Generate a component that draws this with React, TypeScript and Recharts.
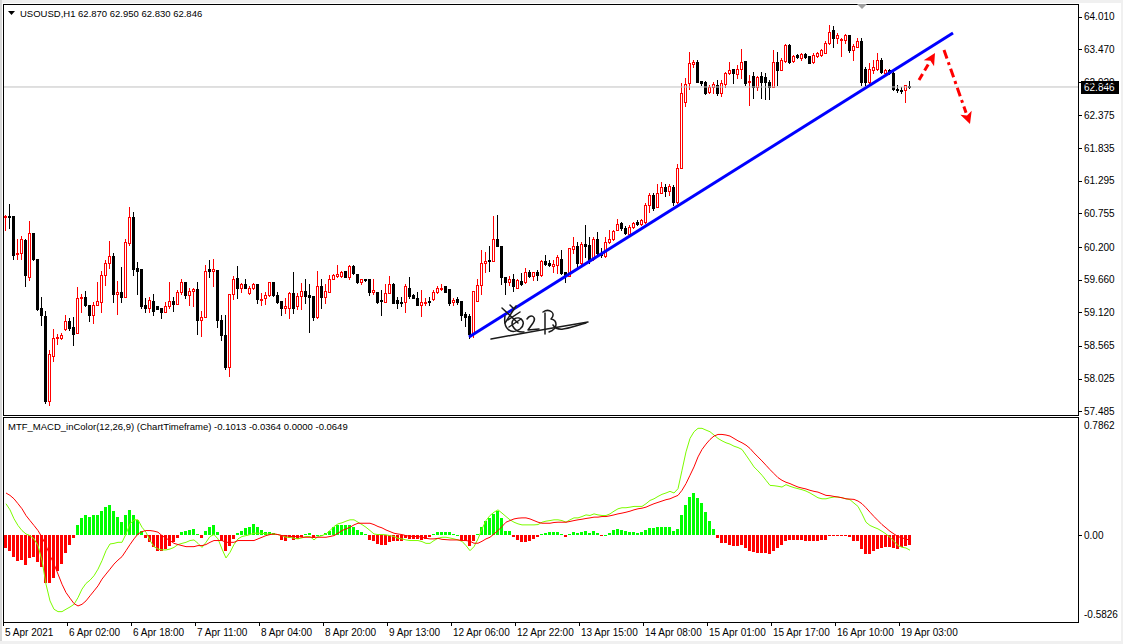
import React from 'react';
import { ComposedChart, Bar, Line, XAxis, YAxis, ReferenceLine } from 'recharts';

const FONT = '"Liberation Sans", Arial, sans-serif';

// USOUSD H1 candles
const openP = [
  60.69, 60.71, 60.71, 60.08, 60.11, 60.32, 59.71, 60.43, 60.01, 59.19,
  59.06, 57.66, 58.40, 58.70, 58.70, 58.84, 58.98, 58.88, 58.78, 59.35,
  59.37, 59.24, 59.07, 59.24, 59.30, 59.74, 59.93, 60.05, 59.42, 59.45,
  59.38, 60.27, 60.69, 59.85, 59.84, 59.24, 59.19, 59.31, 59.22, 59.20,
  59.13, 59.22, 59.31, 59.26, 59.45, 59.63, 59.40, 59.47, 59.50, 59.00,
  59.05, 59.83, 59.80, 59.82, 58.99, 58.75, 58.21, 59.42, 59.69, 59.53,
  59.59, 59.44, 59.52, 59.59, 59.33, 59.35, 59.40, 59.62, 59.41, 59.31,
  59.19, 59.20, 59.44, 59.23, 59.39, 59.48, 59.41, 59.39, 59.05, 59.55,
  59.38, 59.46, 59.68, 59.72, 59.72, 59.81, 59.71, 59.88, 59.76, 59.63,
  59.68, 59.67, 59.45, 59.46, 59.33, 59.30, 59.44, 59.59, 59.32, 59.30,
  59.30, 59.52, 59.41, 59.35, 59.24, 59.29, 59.31, 59.34, 59.46, 59.52,
  59.55, 59.50, 59.30, 59.34, 59.31, 59.09, 59.06, 58.76, 59.31, 59.57,
  59.94, 59.99, 59.97, 60.33, 60.22, 59.70, 59.63, 59.68, 59.53, 59.64,
  59.63, 59.79, 59.72, 59.79, 59.74, 59.97, 59.94, 59.89, 59.90, 60.01,
  59.78, 59.72, 60.16, 60.22, 59.94, 60.25, 60.23, 60.01, 60.34, 60.11,
  60.05, 60.29, 60.34, 60.49, 60.59, 60.51, 60.42, 60.53, 60.62, 60.58,
  60.62, 60.90, 61.06, 60.86, 61.10, 61.20, 61.12, 61.20, 60.95, 61.50,
  62.60, 62.91, 63.22, 63.26, 62.94, 62.93, 62.77, 62.85, 62.88, 62.74,
  62.90, 63.07, 63.14, 63.06, 63.14, 63.28, 62.92, 63.03, 62.84, 63.02,
  63.01, 62.93, 62.85, 63.26, 63.13, 63.28, 63.54, 63.28, 63.37, 63.32,
  63.39, 63.35, 63.26, 63.35, 63.37, 63.41, 63.57, 63.78, 63.65, 63.63,
  63.63, 63.70, 63.45, 63.51, 63.61, 63.14, 62.92, 63.13, 63.15, 63.30,
  63.08, 63.13, 63.07, 62.81, 62.80, 62.79, 62.87,
];

const highP = [
  60.73, 60.91, 60.72, 60.34, 60.38, 60.34, 60.63, 60.44, 60.01, 59.38,
  59.14, 58.50, 58.85, 58.76, 58.78, 59.07, 59.03, 59.05, 59.54, 59.42,
  59.48, 59.24, 59.30, 59.62, 59.81, 59.99, 60.30, 60.11, 59.64, 59.87,
  60.34, 60.86, 60.78, 59.96, 59.84, 59.35, 59.38, 59.43, 59.23, 59.20,
  59.29, 59.62, 59.37, 59.49, 59.68, 59.63, 59.53, 59.52, 59.62, 59.15,
  59.90, 59.99, 60.00, 59.82, 59.07, 59.07, 59.43, 59.72, 59.89, 59.61,
  59.68, 59.55, 59.61, 59.59, 59.44, 59.45, 59.63, 59.63, 59.46, 59.31,
  59.35, 59.45, 59.79, 59.44, 59.60, 59.67, 59.59, 59.39, 59.81, 59.68,
  59.59, 59.74, 59.76, 59.90, 59.81, 59.81, 59.90, 59.90, 59.76, 59.68,
  59.68, 59.67, 59.67, 59.46, 59.49, 59.59, 59.72, 59.61, 59.38, 59.38,
  59.59, 59.71, 59.42, 59.46, 59.49, 59.35, 59.37, 59.49, 59.55, 59.59,
  59.55, 59.50, 59.35, 59.38, 59.31, 59.13, 59.10, 59.48, 59.68, 60.15,
  60.12, 60.21, 60.71, 60.73, 60.22, 59.71, 59.72, 59.75, 59.68, 59.77,
  59.85, 59.82, 59.79, 59.82, 59.99, 60.07, 59.99, 59.99, 60.07, 60.15,
  59.79, 60.19, 60.37, 60.29, 60.29, 60.57, 60.37, 60.37, 60.45, 60.18,
  60.37, 60.48, 60.49, 60.66, 60.62, 60.54, 60.56, 60.62, 60.65, 60.66,
  60.92, 61.09, 61.09, 61.25, 61.28, 61.25, 61.25, 61.23, 61.58, 62.91,
  63.00, 63.43, 63.30, 63.30, 62.94, 62.94, 62.88, 62.93, 62.96, 62.96,
  63.10, 63.26, 63.15, 63.21, 63.47, 63.28, 63.04, 63.10, 63.03, 63.10,
  63.07, 62.96, 63.45, 63.43, 63.32, 63.56, 63.56, 63.37, 63.39, 63.40,
  63.40, 63.36, 63.41, 63.43, 63.48, 63.60, 63.87, 63.85, 63.73, 63.65,
  63.72, 63.70, 63.56, 63.66, 63.66, 63.18, 63.25, 63.30, 63.41, 63.32,
  63.14, 63.14, 63.10, 62.88, 62.85, 62.88, 62.95,
];

const lowP = [
  60.49, 60.51, 60.01, 60.01, 60.01, 59.56, 59.65, 59.99, 59.16, 58.91,
  57.63, 57.59, 58.32, 58.60, 58.68, 58.83, 58.83, 58.58, 58.78, 59.13,
  59.23, 58.97, 58.94, 59.24, 59.13, 59.57, 59.85, 59.30, 59.10, 59.30,
  59.38, 60.23, 59.74, 59.42, 59.19, 59.13, 59.12, 59.07, 59.17, 59.03,
  59.13, 59.19, 59.14, 59.26, 59.43, 59.35, 59.24, 59.23, 58.77, 58.73,
  59.05, 59.71, 59.56, 58.88, 58.66, 58.19, 58.07, 59.34, 59.35, 59.46,
  59.52, 59.42, 59.50, 59.27, 59.24, 59.26, 59.39, 59.39, 59.27, 59.08,
  59.11, 59.02, 59.11, 59.17, 59.17, 59.28, 58.79, 58.99, 59.02, 59.19,
  59.28, 59.45, 59.67, 59.71, 59.71, 59.71, 59.68, 59.76, 59.61, 59.59,
  59.64, 59.41, 59.42, 59.28, 59.08, 59.30, 59.44, 59.28, 59.20, 59.22,
  59.13, 59.35, 59.35, 59.24, 59.06, 59.24, 59.24, 59.33, 59.44, 59.49,
  59.45, 59.24, 59.24, 59.26, 58.99, 58.90, 58.69, 58.72, 59.31, 59.42,
  59.78, 59.81, 59.97, 60.22, 59.59, 59.42, 59.57, 59.48, 59.52, 59.57,
  59.61, 59.71, 59.66, 59.66, 59.72, 59.90, 59.89, 59.79, 59.77, 59.76,
  59.63, 59.72, 60.10, 59.85, 59.92, 60.03, 59.94, 59.99, 60.07, 60.03,
  60.04, 60.27, 60.32, 60.48, 60.49, 60.42, 60.40, 60.51, 60.56, 60.56,
  60.60, 60.78, 60.82, 60.86, 61.09, 61.04, 61.06, 60.90, 60.92, 61.50,
  62.53, 62.82, 63.18, 62.92, 62.88, 62.73, 62.74, 62.74, 62.71, 62.70,
  62.85, 63.06, 62.91, 62.99, 62.99, 62.88, 62.55, 62.66, 62.79, 62.66,
  62.64, 62.64, 62.85, 62.88, 63.12, 63.26, 63.25, 63.26, 63.32, 63.30,
  63.32, 63.24, 63.25, 63.34, 63.36, 63.40, 63.56, 63.50, 63.58, 63.35,
  63.58, 63.43, 63.30, 63.50, 62.88, 62.88, 62.91, 63.07, 63.13, 63.07,
  63.06, 63.06, 62.79, 62.77, 62.75, 62.60, 62.83,
];

const closeP = [
  60.72, 60.70, 60.07, 60.11, 60.33, 59.73, 60.44, 60.01, 59.18, 59.07,
  57.66, 58.43, 58.69, 58.72, 58.75, 58.98, 58.87, 58.77, 59.35, 59.37,
  59.24, 59.07, 59.25, 59.31, 59.74, 59.94, 60.05, 59.43, 59.45, 59.38,
  60.28, 60.69, 59.83, 59.80, 59.23, 59.20, 59.32, 59.15, 59.18, 59.13,
  59.22, 59.31, 59.26, 59.45, 59.63, 59.40, 59.48, 59.50, 59.00, 59.05,
  59.81, 59.80, 59.84, 59.00, 58.75, 58.22, 59.43, 59.68, 59.53, 59.59,
  59.52, 59.52, 59.59, 59.34, 59.34, 59.41, 59.62, 59.40, 59.30, 59.19,
  59.23, 59.44, 59.20, 59.39, 59.48, 59.39, 59.38, 59.05, 59.55, 59.38,
  59.48, 59.68, 59.74, 59.75, 59.79, 59.71, 59.88, 59.77, 59.63, 59.68,
  59.65, 59.46, 59.49, 59.30, 59.32, 59.44, 59.59, 59.28, 59.28, 59.29,
  59.55, 59.39, 59.36, 59.24, 59.30, 59.30, 59.30, 59.46, 59.52, 59.53,
  59.46, 59.28, 59.33, 59.30, 59.08, 59.05, 58.76, 59.48, 59.57, 59.93,
  59.97, 59.97, 60.33, 60.22, 59.70, 59.63, 59.68, 59.55, 59.66, 59.59,
  59.78, 59.72, 59.78, 59.74, 59.97, 59.92, 59.90, 59.92, 60.03, 59.77,
  59.72, 60.18, 60.22, 59.94, 60.25, 60.21, 59.97, 60.34, 60.10, 60.07,
  60.29, 60.34, 60.47, 60.58, 60.51, 60.43, 60.53, 60.60, 60.58, 60.64,
  60.90, 61.06, 60.84, 61.10, 61.20, 61.12, 61.21, 60.95, 61.50, 62.74,
  62.90, 63.24, 63.26, 62.93, 62.91, 62.74, 62.85, 62.89, 62.74, 62.91,
  63.08, 63.13, 63.08, 63.15, 63.26, 62.91, 62.95, 62.84, 63.01, 62.93,
  62.92, 62.85, 63.26, 63.13, 63.29, 63.54, 63.26, 63.35, 63.34, 63.39,
  63.34, 63.25, 63.37, 63.40, 63.46, 63.58, 63.76, 63.65, 63.70, 63.64,
  63.70, 63.46, 63.52, 63.60, 62.93, 62.92, 63.14, 63.18, 63.30, 63.10,
  63.13, 63.07, 62.81, 62.79, 62.79, 62.88, 62.846,
];

// MTF_MACD_inColor(12,26,9): histogram, main line, signal line
const macdHist = [
  -0.086, -0.104, -0.149, -0.176, -0.167, -0.198, -0.153, -0.149, -0.183, -0.216,
  -0.324, -0.324, -0.288, -0.243, -0.194, -0.122, -0.063, -0.021, 0.065, 0.114,
  0.132, 0.125, 0.132, 0.132, 0.161, 0.188, 0.202, 0.159, 0.125, 0.087,
  0.137, 0.170, 0.137, 0.103, 0.031, -0.021, -0.048, -0.082, -0.104, -0.108,
  -0.093, -0.070, -0.048, -0.021, 0.020, 0.027, 0.035, 0.042, 0.008, -0.021,
  0.027, 0.053, 0.065, 0.020, -0.041, -0.108, -0.070, -0.025, 0.013, 0.031,
  0.049, 0.058, 0.076, 0.058, 0.035, 0.020, 0.024, 0.015, 0.008, -0.032,
  -0.036, -0.021, -0.032, -0.025, -0.014, 0.008, 0.013, -0.021, 0.004, 0.004,
  0.013, 0.031, 0.053, 0.065, 0.071, 0.071, 0.065, 0.058, 0.035, 0.020,
  0.008, -0.030, -0.036, -0.059, -0.063, -0.063, -0.048, -0.041, -0.041, -0.041,
  -0.021, -0.025, -0.025, -0.025, -0.032, -0.025, -0.014, 0.008, 0.020, 0.024,
  0.024, 0.020, 0.009, 0.004, -0.036, -0.036, -0.070, -0.036, 0.009, 0.053,
  0.094, 0.114, 0.139, 0.161, 0.114, 0.031, 0.026, -0.014, -0.032, -0.047,
  -0.047, -0.036, -0.025, -0.014, 0.009, 0.013, 0.020, 0.020, 0.024, 0.009,
  -0.014, 0.009, 0.024, 0.013, 0.024, 0.031, 0.013, 0.031, 0.013, -0.005,
  0.004, 0.013, 0.035, 0.040, 0.035, 0.031, 0.024, 0.024, 0.017, 0.020,
  0.035, 0.047, 0.047, 0.053, 0.058, 0.053, 0.053, 0.031, 0.040, 0.132,
  0.200, 0.256, 0.283, 0.251, 0.215, 0.154, 0.094, 0.040, -0.018, -0.054,
  -0.054, -0.063, -0.070, -0.070, -0.063, -0.086, -0.104, -0.115, -0.122, -0.122,
  -0.122, -0.126, -0.104, -0.088, -0.063, -0.036, -0.032, -0.032, -0.032, -0.032,
  -0.041, -0.041, -0.041, -0.041, -0.032, -0.032, -0.005, -0.005, -0.005, -0.005,
  -0.005, -0.014, -0.036, -0.041, -0.093, -0.126, -0.126, -0.108, -0.093, -0.086,
  -0.081, -0.081, -0.086, -0.093, -0.081, -0.070, -0.065,
];

const macdMain = [
  0.211, 0.170, 0.110, 0.065, 0.031, 0.008, -0.003, -0.025, -0.070, -0.171,
  -0.329, -0.441, -0.497, -0.513, -0.513, -0.497, -0.482, -0.464, -0.419, -0.362,
  -0.324, -0.302, -0.272, -0.228, -0.171, -0.104, -0.059, -0.055, -0.048, -0.048,
  0.008, 0.076, 0.103, 0.103, 0.053, 0.020, -0.036, -0.077, -0.093, -0.099,
  -0.099, -0.093, -0.082, -0.063, -0.055, -0.048, -0.036, -0.032, -0.055, -0.082,
  -0.048, -0.009, 0.004, -0.025, -0.093, -0.153, -0.115, -0.063, -0.025, -0.009,
  -0.003, 0.004, 0.013, 0.013, 0.013, 0.008, 0.008, 0.008, 0.004, -0.003,
  -0.014, -0.014, -0.021, -0.025, -0.018, -0.009, -0.009, -0.032, -0.009, -0.003,
  0.008, 0.031, 0.058, 0.076, 0.083, 0.094, 0.103, 0.103, 0.087, 0.071,
  0.053, 0.031, 0.008, 0.004, 0.004, 0.002, -0.003, -0.009, -0.021, -0.025,
  -0.032, -0.036, -0.036, -0.036, -0.043, -0.055, -0.055, -0.036, -0.021, -0.014,
  -0.014, -0.019, -0.025, -0.032, -0.041, -0.070, -0.104, -0.077, -0.025, 0.042,
  0.098, 0.132, 0.154, 0.170, 0.148, 0.125, 0.103, 0.087, 0.076, 0.069,
  0.069, 0.069, 0.069, 0.071, 0.087, 0.094, 0.098, 0.103, 0.103, 0.098,
  0.087, 0.103, 0.116, 0.116, 0.125, 0.136, 0.132, 0.143, 0.136, 0.132,
  0.132, 0.143, 0.161, 0.177, 0.184, 0.184, 0.188, 0.193, 0.193, 0.193,
  0.211, 0.233, 0.244, 0.260, 0.274, 0.283, 0.294, 0.283, 0.312, 0.435,
  0.559, 0.649, 0.694, 0.717, 0.717, 0.705, 0.694, 0.672, 0.649, 0.633,
  0.620, 0.611, 0.597, 0.588, 0.575, 0.537, 0.498, 0.458, 0.431, 0.402,
  0.368, 0.334, 0.332, 0.328, 0.323, 0.339, 0.328, 0.319, 0.312, 0.305,
  0.296, 0.283, 0.267, 0.251, 0.244, 0.244, 0.251, 0.256, 0.256, 0.251,
  0.244, 0.238, 0.215, 0.193, 0.143, 0.087, 0.065, 0.053, 0.042, 0.026,
  0.008, -0.014, -0.041, -0.070, -0.081, -0.086, -0.101,
];

const macdSignal = [
  0.283, 0.267, 0.244, 0.211, 0.177, 0.132, 0.098, 0.065, 0.031, -0.014,
  -0.070, -0.137, -0.194, -0.261, -0.329, -0.385, -0.423, -0.459, -0.475, -0.464,
  -0.441, -0.407, -0.374, -0.340, -0.295, -0.261, -0.228, -0.194, -0.167, -0.144,
  -0.104, -0.063, -0.025, 0.008, 0.024, 0.031, 0.031, 0.027, 0.020, -0.003,
  -0.021, -0.036, -0.055, -0.063, -0.070, -0.077, -0.077, -0.077, -0.070, -0.070,
  -0.063, -0.048, -0.036, -0.036, -0.036, -0.048, -0.048, -0.048, -0.036, -0.036,
  -0.036, -0.036, -0.036, -0.025, -0.014, -0.003, 0.004, 0.008, 0.004, -0.003,
  -0.003, -0.009, -0.009, -0.009, -0.014, -0.014, -0.014, -0.014, -0.014, -0.014,
  -0.014, -0.009, -0.003, 0.013, 0.031, 0.042, 0.053, 0.069, 0.080, 0.080,
  0.080, 0.080, 0.071, 0.058, 0.049, 0.035, 0.024, 0.013, 0.008, 0.004,
  -0.003, -0.007, -0.009, -0.009, -0.014, -0.021, -0.025, -0.025, -0.021, -0.028,
  -0.030, -0.032, -0.032, -0.032, -0.036, -0.036, -0.041, -0.054, -0.054, -0.041,
  -0.025, -0.014, 0.008, 0.031, 0.058, 0.087, 0.098, 0.109, 0.114, 0.116,
  0.116, 0.109, 0.098, 0.087, 0.080, 0.080, 0.080, 0.085, 0.087, 0.087,
  0.087, 0.092, 0.098, 0.103, 0.107, 0.112, 0.116, 0.121, 0.121, 0.125,
  0.125, 0.130, 0.136, 0.143, 0.148, 0.154, 0.161, 0.170, 0.177, 0.181,
  0.188, 0.200, 0.211, 0.220, 0.229, 0.238, 0.244, 0.256, 0.267, 0.301,
  0.346, 0.402, 0.458, 0.525, 0.575, 0.611, 0.642, 0.665, 0.676, 0.676,
  0.672, 0.665, 0.649, 0.633, 0.620, 0.604, 0.582, 0.552, 0.525, 0.498,
  0.469, 0.440, 0.413, 0.386, 0.368, 0.355, 0.346, 0.334, 0.323, 0.316,
  0.310, 0.301, 0.294, 0.289, 0.278, 0.267, 0.265, 0.260, 0.256, 0.251,
  0.244, 0.242, 0.240, 0.229, 0.211, 0.184, 0.154, 0.125, 0.098, 0.071,
  0.049, 0.026, 0.008, -0.009, -0.018, -0.025, -0.036,
];

const priceTicks = [64.01, 63.47, 62.92, 62.375, 61.835, 61.295, 60.755, 60.2, 59.66, 59.12, 58.565, 58.025, 57.485];
const macdTicks = [0.7862, 0, -0.5826];
const timeTickIdx = [0, 16, 32, 48, 64, 80, 96, 112, 128, 144, 160, 176, 192, 208, 224];
const timeLabels = [
  '5 Apr 2021', '6 Apr 02:00', '6 Apr 18:00', '7 Apr 11:00', '8 Apr 04:00',
  '8 Apr 20:00', '9 Apr 13:00', '12 Apr 06:00', '12 Apr 22:00', '13 Apr 15:00',
  '14 Apr 08:00', '15 Apr 01:00', '15 Apr 17:00', '16 Apr 10:00', '19 Apr 03:00',
];
const lastPrice = 62.846;

// drawn objects on the price window (bar index, price)
const trendLine = [{ x: 115.75, y: 58.714 }, { x: 236.75, y: 63.739 }];
const arrowUp = [{ x: 228.25, y: 62.962 }, { x: 232.25, y: 63.408 }];
const arrowDown = [{ x: 234.5, y: 63.458 }, { x: 241, y: 62.234 }];

const rows = openP.map((o, i) => ({
  i,
  open: o,
  high: highP[i],
  low: lowP[i],
  close: closeP[i],
  hist: macdHist[i],
  macd: macdMain[i],
  signal: macdSignal[i],
}));

const Candle = (props: any) => {
  const { x, y, width, height, payload } = props;
  if (x == null || !payload) return null;
  const top = Math.min(y, y + height);
  const bot = Math.max(y, y + height);
  const span = payload.high - payload.low;
  const toPx = (v: number) => (span > 0 ? top + ((payload.high - v) / span) * (bot - top) : top);
  const left = Math.floor(x + width / 2 - 1.5);
  const up = payload.close >= payload.open;
  const color = up ? '#ff0000' : '#000000';
  const yo = toPx(payload.open);
  const yc = toPx(payload.close);
  const bt = Math.round(Math.min(yo, yc));
  const bb = Math.round(Math.max(yo, yc));
  return (
    <g shapeRendering="crispEdges">
      <line x1={left + 1.5} x2={left + 1.5} y1={Math.round(top)} y2={Math.round(bot) + 1} stroke={color} />
      {up ? (
        <rect x={left + 0.5} y={bt + 0.5} width={2} height={Math.max(bb - bt, 1)} fill="#ffffff" stroke={color} />
      ) : (
        <rect x={left} y={bt} width={3} height={Math.max(bb - bt, 1) + 1} fill={color} />
      )}
    </g>
  );
};

const HistBar = (props: any) => {
  const { x, y, width, height, payload } = props;
  if (x == null || !payload) return null;
  const left = Math.floor(x + width / 2 - 1.5);
  const t = Math.round(Math.min(y, y + height));
  const b = Math.round(Math.max(y, y + height));
  return (
    <rect x={left} y={t} width={3} height={Math.max(b - t, 1)} fill={payload.hist >= 0 ? '#00ff00' : '#ff0000'} shapeRendering="crispEdges" />
  );
};

const PriceTick = (props: any) => {
  const { x, y, payload } = props;
  const yy = Math.round(y) + 0.5;
  return (
    <g>
      <line x1={x} x2={x + 4} y1={yy} y2={yy} stroke="#000" shapeRendering="crispEdges" />
      <text x={x + 6} y={y + 3.5} fontSize={10} fontFamily={FONT} fill="#000">
        {Number(payload.value).toFixed(3)}
      </text>
    </g>
  );
};

const MacdTick = (props: any) => {
  const { x, y, payload } = props;
  const v = Number(payload.value);
  const label = v === 0 ? '0.00' : v.toFixed(4);
  const dy = v === macdTicks[0] ? 10.5 : v === macdTicks[2] ? -4.5 : 3.5;
  const yy = Math.round(y) + 0.5;
  return (
    <g>
      {v === 0 && <line x1={x} x2={x + 4} y1={yy} y2={yy} stroke="#000" shapeRendering="crispEdges" />}
      <text x={x + 6} y={y + dy} fontSize={10} fontFamily={FONT} fill="#000">
        {label}
      </text>
    </g>
  );
};

const TimeTick = (props: any) => {
  const { x, y, payload } = props;
  const k = timeTickIdx.indexOf(Number(payload.value));
  const tx = Math.round(x) - 3;
  return (
    <g>
      <line x1={tx + 0.5} x2={tx + 0.5} y1={y} y2={y + 4} stroke="#000" shapeRendering="crispEdges" />
      <text x={tx + 2} y={y + 14} fontSize={10} fontFamily={FONT} fill="#000">
        {timeLabels[k]}
      </text>
    </g>
  );
};

const PriceBox = (props: any) => {
  const vb = props.viewBox || {};
  const x = vb.x + vb.width;
  const y = Math.round(vb.y);
  return (
    <g>
      <rect x={x + 3} y={y - 6} width={38} height={13} fill="#000" />
      <text x={x + 6} y={y + 4} fontSize={10} fontFamily={FONT} fill="#fff">
        {lastPrice.toFixed(3)}
      </text>
    </g>
  );
};

const makeArrow = (dash: string) => (p: any) => {
  const { x1, y1, x2, y2 } = p;
  const ang = Math.atan2(y2 - y1, x2 - x1);
  const len = 12;
  const wid = 6;
  const bx = x2 - len * Math.cos(ang);
  const by = y2 - len * Math.sin(ang);
  const px = -Math.sin(ang) * wid;
  const py = Math.cos(ang) * wid;
  return (
    <g>
      <line x1={x1} y1={y1} x2={bx} y2={by} stroke="#ff0000" strokeWidth={3} strokeDasharray={dash} />
      <polygon points={`${x2},${y2} ${bx + px},${by + py} ${bx + 3 * Math.cos(ang)},${by + 3 * Math.sin(ang)} ${bx - px},${by - py}`} fill="#ff0000" />
    </g>
  );
};

const xDomain: [number, number] = [-0.5, 268];

const App: React.FC = () => {
  return (
    <div style={{ position: 'fixed', left: 0, top: 0, width: 1123, height: 644, background: '#ffffff', overflow: 'hidden', fontFamily: FONT }}>
      {/* price window */}
      <div style={{ position: 'absolute', left: 0, top: 0 }}>
        <ComposedChart width={1123} height={416} data={rows} margin={{ top: 5, right: 0, bottom: 1, left: 4 }}>
          <XAxis dataKey="i" type="number" domain={xDomain} hide allowDataOverflow />
          <YAxis
            orientation="right"
            width={45}
            domain={[57.424, 64.201]}
            ticks={priceTicks}
            interval={0}
            tick={<PriceTick />}
            tickSize={0}
            tickMargin={0}
            axisLine={false}
            tickLine={false}
            allowDataOverflow
          />
          <ReferenceLine y={lastPrice} stroke="#c0c0c0" label={<PriceBox />} />
          <Bar dataKey={(d: any) => [d.low, d.high]} barSize={3} shape={<Candle />} isAnimationActive={false} />
          <ReferenceLine segment={trendLine} stroke="#0000ff" strokeWidth={3} />
          <ReferenceLine segment={arrowUp} shape={makeArrow('7 4')} />
          <ReferenceLine segment={arrowDown} shape={makeArrow('9 4 3 4')} />
        </ComposedChart>
      </div>

      {/* MACD window */}
      <div style={{ position: 'absolute', left: 0, top: 417 }}>
        <ComposedChart width={1123} height={227} data={rows} margin={{ top: 1, right: 0, bottom: 0, left: 4 }}>
          <XAxis
            dataKey="i"
            type="number"
            domain={xDomain}
            ticks={timeTickIdx}
            interval={0}
            tick={<TimeTick />}
            height={22}
            tickSize={0}
            tickMargin={0}
            axisLine={false}
            tickLine={false}
            allowDataOverflow
          />
          <YAxis
            orientation="right"
            width={45}
            domain={[-0.5826, 0.7862]}
            ticks={macdTicks}
            interval={0}
            tick={<MacdTick />}
            tickSize={0}
            tickMargin={0}
            axisLine={false}
            tickLine={false}
            allowDataOverflow
          />
          <Bar dataKey="hist" barSize={3} shape={<HistBar />} isAnimationActive={false} />
          <Line type="linear" dataKey="macd" stroke="#7cfc00" strokeWidth={1} dot={false} isAnimationActive={false} />
          <Line type="linear" dataKey="signal" stroke="#ff0000" strokeWidth={1} dot={false} isAnimationActive={false} />
        </ComposedChart>
      </div>

      {/* window frames */}
      <div style={{ position: 'absolute', left: 0, top: 0, width: 1123, height: 3, background: '#f0f0f0' }} />
      <div style={{ position: 'absolute', left: 0, top: 0, width: 2, height: 644, background: '#d8d8d8' }} />
      <div style={{ position: 'absolute', left: 1121, top: 0, width: 2, height: 644, background: '#f0f0f0' }} />
      <div style={{ position: 'absolute', left: 0, top: 641, width: 1123, height: 3, background: '#f0f0f0' }} />
      <div style={{ position: 'absolute', left: 3, top: 4, width: 1076, height: 412, border: '1px solid #000', boxSizing: 'border-box' }} />
      <div style={{ position: 'absolute', left: 3, top: 417, width: 1076, height: 206, border: '1px solid #000', boxSizing: 'border-box' }} />

      {/* window captions */}
      <svg width={1123} height={644} style={{ position: 'absolute', left: 0, top: 0, pointerEvents: 'none' }}>
        <polygon points="8,11 15,11 11.5,15" fill="#000" />
        <polygon points="857,4 867,4 862,9" fill="#a0a0a0" />
        <text x={20} y={17} fontSize={9.5} fontFamily={FONT} fill="#000">
          {'USOUSD,H1  62.870 62.950 62.830 62.846'}
        </text>
        <text x={8} y={430} fontSize={9.5} fontFamily={FONT} fill="#000">
          {'MTF_MACD_inColor(12,26,9) (ChartTimeframe) -0.1013 -0.0364 0.0000 -0.0649'}
        </text>
        {/* handwritten signature */}
        <g fill="none" stroke="#1a1a1a" strokeWidth={1.5} strokeLinecap="round" strokeLinejoin="round">
          <path d="M491,339 Q540,330 588,322" />
          <path d="M502,308 L518,323 M505,323 L516,306 M510,305 L514,309" />
          <path d="M505,316 C503,329 511,335 520,329 C527,323 521,315 514,319 C509,324 515,333 524,332" />
          <path d="M508,320 L520,312 M509,327 L521,319" />
          <path d="M527,319 C531,313 537,317 533,323 L528,330 L539,329" />
          <path d="M543,312 C549,308 557,313 551,319 C557,320 559,328 549,332 M545,313 L545,334" />
          <path d="M553,325 C558,333 568,328 586,323" />
        </g>
      </svg>
    </div>
  );
};

export default App;
